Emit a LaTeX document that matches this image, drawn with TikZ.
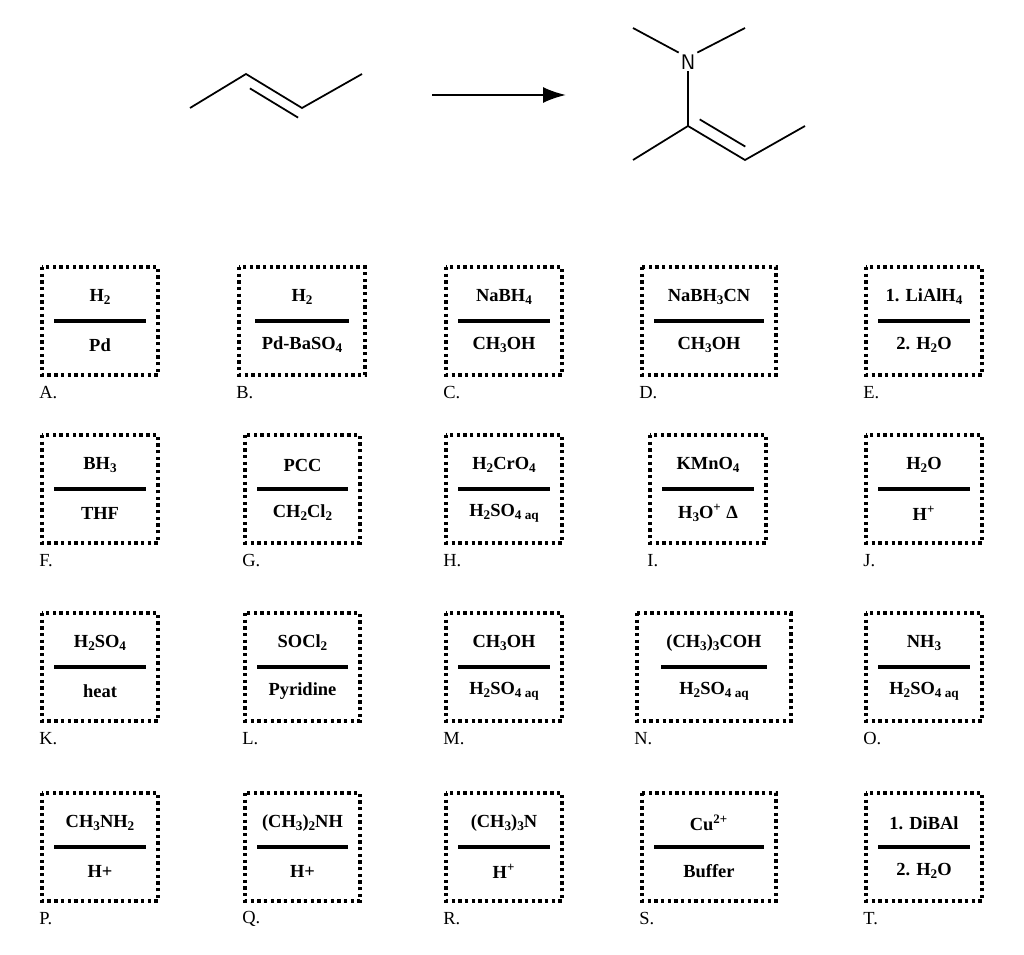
\documentclass[tikz,border=0pt]{standalone}
\usepackage{fontspec}
\usetikzlibrary{calc,arrows.meta}
\setmainfont{Liberation Serif}
\newcommand\lsb[1]{\raisebox{-0.35ex}{\fontsize{7.5}{8}\selectfont #1}}
\newcommand\lsp[1]{\textsuperscript{#1}}
\newcommand\rbox[8]{%
 \draw[dotbox] (#2,#4) rectangle (#3,#4+108);
 \node[reag] (#1t) at ({(#2+#3)/2},#4+30) {#5};
 \node[reag] (#1b) at ({(#2+#3)/2},#4+78) {#6};
 \coordinate (#1l) at (#2+12+#8,#4+54);
 \coordinate (#1r) at (#3-12-#8,#4+54);
 \draw[bar] (#1l) -- (#1r);
 \node[lab] (#1n) at (#2-3,#4+126) {#7};}
\begin{document}
\begin{tikzpicture}[x=0.02cm,y=-0.02cm,
 dotbox/.style={line width=1.9pt,dash pattern=on 1.9pt off 1.9pt},
 bar/.style={line width=2pt},
 reag/.style={font=\fontsize{10.5}{12}\selectfont\bfseries,inner sep=0pt},
 lab/.style={font=\fontsize{10.5}{12}\selectfont,anchor=west,inner sep=0pt},
 bond/.style={line width=1pt}]
\useasboundingbox (0,0) rectangle (1024,955);
% reactant
\coordinate (a1) at (190,108); \coordinate (a2) at (246,74);
\coordinate (a3) at (302,108); \coordinate (a4) at (362,74);
\draw[bond] (a1)--(a2)--(a3)--(a4);
\draw[bond] ($(a2)!0.07!(a3)+(0,12)$) -- ($(a2)!0.93!(a3)+(0,12)$);
% arrow
\coordinate (r1) at (432,95); \coordinate (r2) at (566,95);
\draw[line width=1.2pt,-{Latex[length=13pt,width=9pt]}] (r1)--(r2);
% product
\node[font=\fontsize{12}{12}\selectfont\sffamily,inner sep=1pt] (N) at (688,62) {N};
\coordinate (m1) at (633,28); \coordinate (m2) at (745,28);
\coordinate (c2) at (688,126); \coordinate (c1) at (633,160);
\coordinate (c3) at (745,160); \coordinate (c4) at (805,126);
\draw[bond] (m1)--(N.north west); \draw[bond] (m2)--(N.north east);
\draw[bond] (N.south)--(c2); \draw[bond] (c1)--(c2)--(c3)--(c4);
\draw[bond] ($(c2)!0.1!(c3)+(6,-10)$) -- ($(c2)!0.9!(c3)+(6,-10)$);
% boxes
\rbox{A}{42}{158}{267}{H\lsb{2}}{Pd}{A.}{0}
\rbox{B}{239}{365}{267}{H\lsb{2}}{Pd-BaSO\lsb{4}}{B.}{4}
\rbox{C}{446}{562}{267}{NaBH\lsb{4}}{CH\lsb{3}OH}{C.}{0}
\rbox{D}{642}{776}{267}{NaBH\lsb{3}CN}{CH\lsb{3}OH}{D.}{0}
\rbox{E}{866}{982}{267}{1. LiAlH\lsb{4}}{2. H\lsb{2}O}{E.}{0}
\rbox{F}{42}{158}{435}{BH\lsb{3}}{THF}{F.}{0}
\rbox{G}{245}{360}{435}{PCC}{CH\lsb{2}Cl\lsb{2}}{G.}{0}
\rbox{H}{446}{562}{435}{H\lsb{2}CrO\lsb{4}}{H\lsb{2}SO\lsb{4 aq}}{H.}{0}
\rbox{I}{650}{766}{435}{KMnO\lsb{4}}{H\lsb{3}O\lsp{+} Δ}{I.}{0}
\rbox{J}{866}{982}{435}{H\lsb{2}O}{H\lsp{+}}{J.}{0}
\rbox{K}{42}{158}{613}{H\lsb{2}SO\lsb{4}}{heat}{K.}{0}
\rbox{L}{245}{360}{613}{SOCl\lsb{2}}{Pyridine}{L.}{0}
\rbox{M}{446}{562}{613}{CH\lsb{3}OH}{H\lsb{2}SO\lsb{4 aq}}{M.}{0}
\rbox{N}{637}{791}{613}{(CH\lsb{3})\lsb{3}COH}{H\lsb{2}SO\lsb{4 aq}}{N.}{12}
\rbox{O}{866}{982}{613}{NH\lsb{3}}{H\lsb{2}SO\lsb{4 aq}}{O.}{0}
\rbox{P}{42}{158}{793}{CH\lsb{3}NH\lsb{2}}{H+}{P.}{0}
\rbox{Q}{245}{360}{793}{(CH\lsb{3})\lsb{2}NH}{H+}{Q.}{0}
\rbox{R}{446}{562}{793}{(CH\lsb{3})\lsb{3}N}{H\lsp{+}}{R.}{0}
\rbox{S}{642}{776}{793}{Cu\lsp{2+}}{Buffer}{S.}{0}
\rbox{T}{866}{982}{793}{1. DiBAl}{2. H\lsb{2}O}{T.}{0}
\end{tikzpicture}
\end{document}
